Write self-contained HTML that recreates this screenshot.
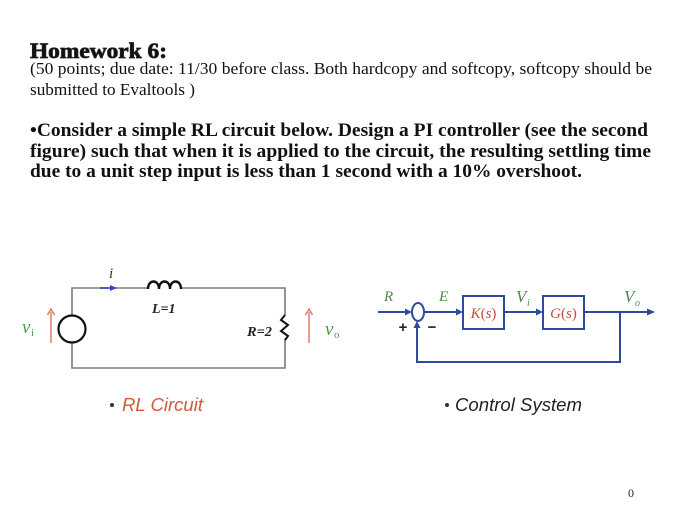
<!DOCTYPE html>
<html>
<head>
<meta charset="utf-8">
<style>
  html,body{margin:0;padding:0;background:#fff;}
  body{width:700px;height:526px;overflow:hidden;}
  svg{display:block;}
</style>
</head>
<body>
<svg width="700" height="526" viewBox="0 0 700 526" xmlns="http://www.w3.org/2000/svg">
  <rect x="0" y="0" width="700" height="526" fill="#ffffff"/>

  <!-- Header text -->
  <text x="30" y="58" font-family="Liberation Serif, serif" font-size="22" font-weight="bold" fill="#111" stroke="#222" stroke-width="0.8" textLength="137" lengthAdjust="spacingAndGlyphs" style="filter:blur(0.3px)">Homework 6:</text>
  <text x="30" y="74" font-family="Liberation Serif, serif" font-size="17" fill="#111" textLength="622" lengthAdjust="spacingAndGlyphs">(50 points; due date: 11/30 before class. Both hardcopy and softcopy, softcopy should be</text>
  <text x="30" y="95" font-family="Liberation Serif, serif" font-size="17" fill="#111" textLength="165" lengthAdjust="spacingAndGlyphs">submitted to Evaltools )</text>

  <text x="30" y="136" font-family="Liberation Serif, serif" font-size="18.5" font-weight="bold" fill="#111" textLength="618" lengthAdjust="spacingAndGlyphs">•Consider a simple RL circuit below. Design a PI controller (see the second</text>
  <text x="30" y="157" font-family="Liberation Serif, serif" font-size="18.5" font-weight="bold" fill="#111" textLength="621" lengthAdjust="spacingAndGlyphs">figure) such that when it is applied to the circuit, the resulting settling time</text>
  <text x="30" y="177" font-family="Liberation Serif, serif" font-size="18.5" font-weight="bold" fill="#111" textLength="552" lengthAdjust="spacingAndGlyphs">due to a unit step input is less than 1 second with a 10% overshoot.</text>

  <!-- RL circuit wires -->
  <g stroke="#7a7a7a" stroke-width="1.6" fill="none">
    <polyline points="72,315 72,288 148,288"/>
    <polyline points="181,288 285,288 285,315"/>
    <polyline points="285,339 285,368 72,368 72,343"/>
  </g>
  <!-- current arrow -->
  <line x1="100" y1="288" x2="112" y2="288" stroke="#3344cc" stroke-width="1.6"/>
  <polygon points="117,288 110,285 110,291" fill="#3344cc"/>
  <text x="109" y="278" font-family="Liberation Serif, serif" font-style="italic" font-size="15" fill="#333">i</text>

  <!-- inductor -->
  <path d="M148,289 C148,279 159,279 159,289 C159,279 170,279 170,289 C170,279 181,279 181,289" stroke="#111" stroke-width="2.4" fill="none"/>
  <text x="152" y="313" font-family="Liberation Serif, serif" font-style="italic" font-weight="bold" font-size="14" fill="#222">L=1</text>

  <!-- source -->
  <circle cx="72" cy="329" r="13.5" stroke="#111" stroke-width="2.2" fill="#fff"/>
  <!-- resistor -->
  <path d="M285,315 L281,320 L288,325 L281,331 L288,336 L285,340" stroke="#111" stroke-width="2" fill="none"/>
  <text x="247" y="336" font-family="Liberation Serif, serif" font-style="italic" font-weight="bold" font-size="14" fill="#222" textLength="25" lengthAdjust="spacingAndGlyphs">R=2</text>

  <!-- voltage arrows -->
  <line x1="51" y1="343" x2="51" y2="312" stroke="#e07a6a" stroke-width="1.5"/>
  <polyline points="47.5,315 51,309 54.5,315" stroke="#e07a6a" stroke-width="1.5" fill="none"/>
  <line x1="309" y1="343" x2="309" y2="312" stroke="#e07a6a" stroke-width="1.5"/>
  <polyline points="305.5,315 309,309 312.5,315" stroke="#e07a6a" stroke-width="1.5" fill="none"/>

  <text x="22" y="333" font-family="Liberation Serif, serif" font-style="italic" font-size="19" fill="#4a9a4a">v</text>
  <text x="31" y="336" font-family="Liberation Serif, serif" font-size="11" fill="#4a9a4a">i</text>
  <text x="325" y="335" font-family="Liberation Serif, serif" font-style="italic" font-size="19" fill="#4a9a4a">v</text>
  <text x="334" y="338" font-family="Liberation Serif, serif" font-size="11" fill="#4a9a4a">o</text>

  <!-- RL Circuit caption -->
  <circle cx="112" cy="405" r="2" fill="#333"/>
  <text x="122" y="411" font-family="Liberation Sans, sans-serif" font-style="italic" font-size="18" fill="#d05a3a" textLength="81" lengthAdjust="spacingAndGlyphs">RL Circuit</text>

  <!-- Control system -->
  <g stroke="#2e4a9e" stroke-width="2" fill="none">
    <line x1="378" y1="312" x2="407" y2="312"/>
    <line x1="424" y1="312" x2="457" y2="312"/>
    <line x1="504" y1="312" x2="537" y2="312"/>
    <line x1="584" y1="312" x2="648" y2="312"/>
    <polyline points="620,312 620,362 417,362 417,327"/>
    <rect x="463" y="296" width="41" height="33"/>
    <rect x="543" y="296" width="41" height="33"/>
  </g>
  <ellipse cx="418" cy="312" rx="6" ry="9" stroke="#2e4a9e" stroke-width="2" fill="#fff"/>
  <g fill="#2e4a9e">
    <polygon points="412,312 405,308.5 405,315.5"/>
    <polygon points="463,312 456,308.5 456,315.5"/>
    <polygon points="543,312 536,308.5 536,315.5"/>
    <polygon points="655,312 647,308.5 647,315.5"/>
    <polygon points="417,321 413.5,328 420.5,328"/>
  </g>

  <text x="384" y="301" font-family="Liberation Serif, serif" font-style="italic" font-size="15" fill="#4a8a4a">R</text>
  <text x="439" y="301" font-family="Liberation Serif, serif" font-style="italic" font-size="15" fill="#4a8a4a">E</text>
  <text x="516" y="302" font-family="Liberation Serif, serif" font-style="italic" font-size="17" fill="#4a8a4a">V</text>
  <text x="527" y="306" font-family="Liberation Serif, serif" font-style="italic" font-size="10" fill="#4a8a4a">i</text>
  <text x="624" y="302" font-family="Liberation Serif, serif" font-style="italic" font-size="17" fill="#4a8a4a">V</text>
  <text x="635" y="306" font-family="Liberation Serif, serif" font-style="italic" font-size="10" fill="#4a8a4a">o</text>

  <text x="483.5" y="318" text-anchor="middle" font-family="Liberation Serif, serif" font-size="15" fill="#c0503a"><tspan font-style="italic">K</tspan>(<tspan font-style="italic">s</tspan>)</text>
  <text x="563.5" y="318" text-anchor="middle" font-family="Liberation Serif, serif" font-size="15" fill="#c0503a"><tspan font-style="italic">G</tspan>(<tspan font-style="italic">s</tspan>)</text>

  <text x="403" y="332" text-anchor="middle" font-family="Liberation Sans, sans-serif" font-size="15" font-weight="bold" fill="#222">+</text>
  <text x="432" y="332" text-anchor="middle" font-family="Liberation Sans, sans-serif" font-size="15" font-weight="bold" fill="#222">−</text>

  <!-- Control System caption -->
  <circle cx="447" cy="405" r="2" fill="#333"/>
  <text x="455" y="411" font-family="Liberation Sans, sans-serif" font-style="italic" font-size="18" fill="#222" textLength="127" lengthAdjust="spacingAndGlyphs">Control System</text>

  <!-- page number -->
  <text x="628" y="497" font-family="Liberation Serif, serif" font-size="12" fill="#222">0</text>
</svg>
</body>
</html>
